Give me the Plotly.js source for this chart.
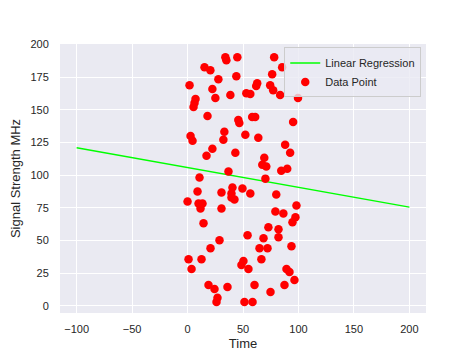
<!DOCTYPE html>
<html>
<head>
<meta charset="utf-8">
<script src="https://cdn.plot.ly/plotly-3.0.1.min.js"></script>
<style>html,body{margin:0;padding:0;background:#fff;}#chart{width:474px;height:354px;}</style>
</head>
<body>
<div id="chart"></div>
<script>
// Regression line endpoints
const lineX = [-100, 200];
const lineY = [121, 75.5];

// Scatter data (Time, Signal Strength MHz)
const pointX = [34.1,35.0,44.9,78.1,85.3,15.3,20.6,44.0,76.3,27.8,
  1.8,62.8,61.9,74.5,77.2,22.4,53.0,56.6,38.6,83.5,
  99.6,25.1,7.2,6.3,5.4,18.0,45.8,46.7,58.3,61.0,
  95.2,2.7,4.5,33.2,32.3,52.1,63.8,88.0,22.4,43.1,
  92.5,17.1,69.2,67.4,71.0,84.5,89.9,36.9,10.8,70.2,
  9.0,30.6,40.5,49.5,39.6,39.6,42.3,56.6,80.0,0.0,
  9.9,13.5,11.7,30.6,98.2,79.2,86.4,97.3,94.6,14.4,
  72.9,82.0,82.0,54.1,68.5,28.8,93.7,20.7,64.9,72.1,
  0.9,12.6,66.6,50.4,48.6,54.9,3.6,89.2,91.9,96.4,
  87.4,18.9,24.3,36.0,60.4,74.8,27.0,26.1,51.3,58.6];
const pointY = [190.1,187.8,190.1,190.1,182.5,182.5,180.2,175.7,177.2,173.4,
  168.8,170.3,168.1,168.8,165.0,165.8,162.7,162.0,161.2,161.2,
  158.9,158.9,158.2,155.1,152.1,145.2,142.2,139.9,144.5,144.5,
  140.7,130.0,126.2,133.1,127.0,130.8,128.5,123.2,120.2,117.1,
  117.1,114.8,113.3,108.0,106.5,103.4,104.9,102.7,98.1,97.3,
  87.5,86.7,90.5,89.7,85.9,82.9,81.4,85.9,85.2,79.8,
  78.3,78.3,74.5,74.5,76.8,72.2,70.7,67.7,63.9,63.1,
  60.1,58.6,52.5,54.0,51.7,50.2,45.6,44.1,44.1,44.1,
  35.7,35.7,35.7,34.2,31.2,28.1,28.1,28.1,25.9,19.8,
  16.0,16.0,12.9,14.4,16.0,10.6,6.1,3.0,3.0,3.0];

const xTicks = [-100, -50, 0, 50, 100, 150, 200];
const xTickText = ['\u2212100', '\u221250', '0', '50', '100', '150', '200'];
const yTicks = [0, 25, 50, 75, 100, 125, 150, 175, 200];

const font = 'Liberation Sans, Arial, sans-serif';

const traces = [
  {x: lineX, y: lineY, type: 'scatter', mode: 'lines', name: 'Linear Regression',
   line: {color: '#00ff00', width: 1.5}},
  {x: pointX, y: pointY, type: 'scatter', mode: 'markers', name: 'Data Point',
   marker: {color: '#ff0000', size: 8.5}}
];

const layout = {
  width: 474, height: 354,
  margin: {l: 60, r: 48, t: 44, b: 41},
  paper_bgcolor: '#ffffff',
  plot_bgcolor: '#eaeaf2',
  font: {family: font, size: 11, color: '#262626'},
  showlegend: true,
  legend: {x: 0.987, y: 0.987, xanchor: 'right', yanchor: 'top',
    bgcolor: 'rgba(234,234,242,0.8)', bordercolor: '#cccccc', borderwidth: 1,
    tracegroupgap: 0,
    font: {family: font, size: 11, color: '#262626'}},
  xaxis: {range: [-115, 215], tickvals: xTicks, ticktext: xTickText,
    showgrid: true, gridcolor: '#ffffff', gridwidth: 1, zeroline: false,
    showline: false, ticks: 'outside', ticklen: 6, tickcolor: 'rgba(0,0,0,0)',
    title: {text: 'Time', font: {family: font, size: 13, color: '#262626'}, standoff: 4}},
  yaxis: {range: [-5.5, 200.3], tickvals: yTicks,
    showgrid: true, gridcolor: '#ffffff', gridwidth: 1, zeroline: false,
    showline: false, ticks: 'outside', ticklen: 8, tickcolor: 'rgba(0,0,0,0)',
    title: {text: 'Signal Strength MHz', font: {family: font, size: 13, color: '#262626'}, standoff: 6}}
};

Plotly.newPlot('chart', traces, layout, {displayModeBar: false, staticPlot: true});
</script>
</body>
</html>
